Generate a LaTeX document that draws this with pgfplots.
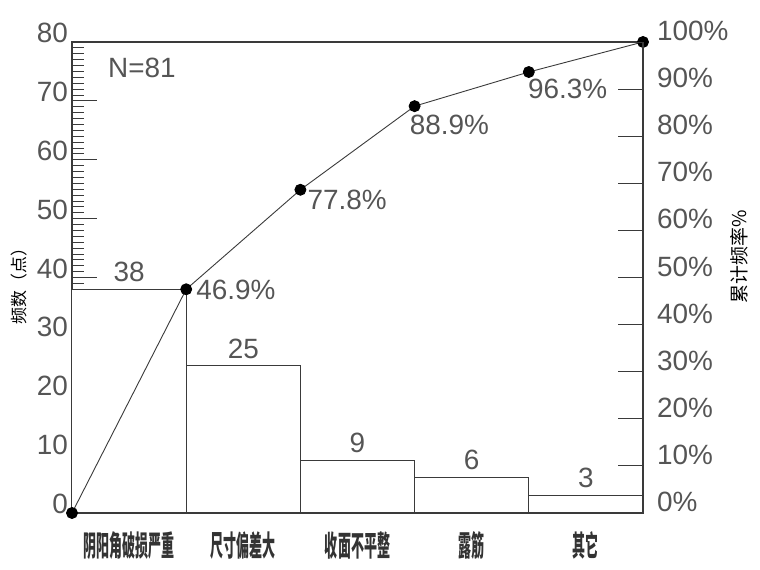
\documentclass[border=0pt]{standalone}
\usepackage{pgfplots}
\pgfplotsset{compat=1.18}
\usepackage{fontspec}
\setmainfont{Liberation Sans}
\newfontfamily\cjk{Noto Sans CJK SC}
\definecolor{txt}{HTML}{555555}
\definecolor{ln}{HTML}{3A3A3A}
\begin{document}
\begin{tikzpicture}[x=1bp,y=1bp]
\begin{axis}[
  scale only axis, width=571bp, height=471bp,
  xmin=0, xmax=5, ymin=0, ymax=80,
  clip=false,
  axis line style={ln, line width=1.2bp},
  ytick={0,10,...,80}, minor y tick num=9,
  ytick pos=left, tick align=inside,
  major tick length=25bp, minor tick length=12bp,
  major tick style={ln, line width=0.8bp},
  minor tick style={ln, line width=0.8bp},
  /pgf/number format/assume math mode=true,
  yticklabel style={font=\fontsize{28}{28}\selectfont, text=txt, inner sep=0pt, anchor=east, xshift=-4bp, yshift=9bp},
  xtick={0.5,1.5,2.5,3.5,4.5},
  xticklabels={阴阳角破损严重,尺寸偏差大,收面不平整,露筋,其它},
  xtick style={draw=none},
  xticklabel style={font=\cjk\bfseries\fontsize{29}{29}\selectfont, text=black!80, xscale=0.45, inner sep=0pt, anchor=north, yshift=-18.5bp},
  ylabel={\cjk 频数（点）},
  ylabel style={font=\fontsize{17}{17}\selectfont, text=black, at={(axis description cs:-0.093,0.49)}, anchor=center},
  nodes near coords style={font=\fontsize{28}{28}\selectfont, text=txt, inner sep=0pt, anchor=south, yshift=7bp},
]
\addplot[ybar, bar width=1, bar shift=0pt, fill=white, draw=ln, line width=1bp, nodes near coords]
  coordinates {(0.5,38) (1.5,25) (2.5,9) (3.5,6) (4.5,3)};
\addplot[ln, line width=0.9bp, mark=*, mark size=5.5bp, mark options={fill=black, draw=black}]
  coordinates {(0,0) (1,38) (2,54.9) (3,69.1) (4,74.9) (5,80)};
\begin{scope}[every node/.style={font=\fontsize{28}{28}\selectfont, text=txt, inner sep=0pt, anchor=west}]
\node[xshift=10bp, yshift=-1bp] at (axis cs:1,38) {46.9\%};
\node[xshift=7bp, yshift=-10bp] at (axis cs:2,54.9) {77.8\%};
\node[xshift=-5bp, yshift=-19bp] at (axis cs:3,69.1) {88.9\%};
\node[xshift=-1bp, yshift=-17bp] at (axis cs:4,74.9) {96.3\%};
\node[xshift=36bp, yshift=-26bp] at (axis cs:0,80) {N=81};
\end{scope}
\end{axis}
\begin{axis}[
  scale only axis, width=571bp, height=471bp,
  xmin=0, xmax=5, ymin=0, ymax=100,
  axis x line=none, axis y line*=right,
  axis line style={ln, line width=1.2bp},
  ytick={0,10,...,100}, minor ytick={},
  tick align=inside,
  major tick length=25bp,
  major tick style={ln, line width=0.8bp},
  /pgf/number format/assume math mode=true,
  yticklabel={\pgfmathprintnumber{\tick}\%},
  yticklabel style={font=\fontsize{28}{28}\selectfont, text=txt, inner sep=0pt, anchor=west, xshift=14bp, yshift=11bp},
  ylabel={\cjk 累计频率\%},
  ylabel style={font=\fontsize{19}{19}\selectfont, text=black, at={(axis description cs:1.168,0.5435)}, anchor=center},
]
\end{axis}
\pgfresetboundingbox
\path[use as bounding box] (-72,-57) rectangle (688,513);
\end{tikzpicture}
\end{document}
